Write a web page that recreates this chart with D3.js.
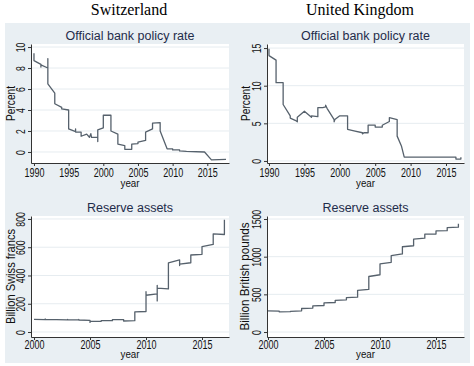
<!DOCTYPE html>
<html>
<head>
<meta charset="utf-8">
<script src="https://cdn.jsdelivr.net/npm/d3@7/dist/d3.min.js"></script>
<style>
  body { margin: 0; background: #fff; }
  svg { display: block; }
  text { font-family: "Liberation Sans", Arial, sans-serif; }
</style>
</head>
<body>
<svg id="chart" width="474" height="366"></svg>
<script>
// policy rates, [year, percent] - vertical jumps are repeated years
var chRate = [[1990, 9.4], [1990, 8.7], [1991, 8.35], [1991, 8.1], [1991, 8.3], [1992, 8.0], [1992, 8.9], [1992, 6.5],
  [1993, 5.6], [1993, 4.6], [1994, 4.25], [1994, 4.1], [1995, 4.0], [1995, 2.2], [1996, 1.95], [1996, 2.2], [1996, 1.9],
  [1996.8, 1.9], [1996.8, 1.5], [1997.6, 1.7], [1998, 1.4], [1998.2, 1.75], [1998.3, 1.4], [1999.2, 1.4], [1999.2, 1.0],
  [1999.2, 2.1], [2000, 2.3], [2000, 3.5], [2001.1, 3.5], [2001.1, 2.0], [2002.1, 1.7], [2002.1, 0.75], [2003.1, 0.6],
  [2003.1, 0.25], [2004.1, 0.25], [2004.1, 0.75], [2005, 0.8], [2005, 0.95], [2006.1, 1.1], [2006.1, 1.9], [2007.1, 2.2],
  [2007.1, 2.75], [2008.2, 2.8], [2008.2, 2.0], [2009.2, 0.3], [2010, 0.3], [2010, 0.2], [2011, 0.2], [2011, 0.1],
  [2012, 0.05], [2014.6, 0.0], [2015.6, -0.75], [2017.7, -0.7]];

var ukRate = [[1990, 14.9], [1990, 14.0], [1991, 13.4], [1991, 10.4], [1992, 10.4], [1992, 7.5], [1993, 6.0], [1993, 5.7],
  [1993.7, 5.4], [1994, 5.2], [1994, 5.8], [1995, 6.6], [1995.5, 6.2], [1996, 5.8], [1996, 6.0], [1996.9, 5.9],
  [1996.9, 7.1], [1997.6, 7.1], [1998, 7.2], [1998, 7.4], [1998.2, 7.0], [1999.2, 5.5], [1999.2, 5.2], [1999.3, 5.5],
  [2000, 6.0], [2001.1, 6.0], [2001.1, 4.2], [2002, 4.0], [2003.2, 3.75], [2003.2, 3.6], [2003.4, 3.75], [2004, 3.75],
  [2004, 4.75], [2005, 4.75], [2005, 4.5], [2006, 4.5], [2006, 4.75], [2007, 5.25], [2007, 5.75], [2008.1, 5.5],
  [2008.1, 3.3], [2008.7, 2.0], [2009.1, 0.5], [2016.4, 0.5], [2016.4, 0.25], [2017.1, 0.25], [2017.1, 0.5]];

// reserve assets, [year, billions]
var chRes = [[2000, 90], [2001, 88], [2001, 92], [2001, 88], [2002, 87], [2003, 86], [2003, 90], [2003, 86], [2004, 86],
  [2004, 89], [2004, 85], [2005, 82], [2005, 68], [2005, 75], [2006, 76], [2006, 80], [2007, 80], [2007, 88], [2008, 88],
  [2008, 78], [2009, 80], [2009, 143], [2010, 145], [2010, 285], [2010, 260], [2011, 270], [2011, 220], [2011, 330],
  [2011, 310], [2012, 305], [2012, 490], [2013, 510], [2013, 470], [2013, 480], [2014, 490], [2014, 545], [2015, 550],
  [2015, 605], [2016, 620], [2016, 695], [2017, 690], [2017, 795]];

var ukRes = [[2000, 282], [2001, 278], [2001, 268], [2002, 270], [2002, 275], [2003, 282], [2003, 312], [2004, 318],
  [2004, 346], [2005, 352], [2005, 386], [2006, 392], [2006, 421], [2007, 428], [2007, 456], [2008, 462], [2008, 553],
  [2009, 565], [2009, 737], [2010, 760], [2010, 904], [2011, 925], [2011, 1013], [2012, 1036], [2012, 1132],
  [2013, 1145], [2013, 1233], [2014, 1246], [2014, 1299], [2015, 1300], [2015, 1342], [2016, 1345], [2016, 1386],
  [2017, 1392], [2017, 1438]];

var rateYears = [1990, 1995, 2000, 2005, 2010, 2015];
var resYears = [2000, 2005, 2010, 2015];
var chRateTicks = [0, 2, 4, 6, 8, 10];
var ukRateTicks = [0, 5, 10, 15];
var chResTicks = [0, 200, 400, 600, 800];
var ukResTicks = [0, 500, 1000, 1500];

var svg = d3.select("#chart");

// light bluish gray graph region behind all four plots
svg.append("rect").attr("x", 5).attr("y", 23).attr("width", 465).attr("height", 340).attr("fill", "#e9eff3");

svg.append("text").attr("x", 129).attr("y", 15).attr("text-anchor", "middle")
  .style("font-family", "'Liberation Serif', 'Times New Roman', serif").style("font-size", "16px")
  .text("Switzerland");
svg.append("text").attr("x", 360).attr("y", 15).attr("text-anchor", "middle")
  .style("font-family", "'Liberation Serif', 'Times New Roman', serif").style("font-size", "16px")
  .text("United Kingdom");

// squeeze text to the narrow look of the stata font
function condense(sel, perChar) {
  sel.each(function() {
    var n = this.textContent.length;
    this.setAttribute("textLength", n * perChar);
    this.setAttribute("lengthAdjust", "spacingAndGlyphs");
  });
}

function drawPanel(p) {
  var x = d3.scaleLinear().domain(p.xDomain).range([p.left, p.right]);
  var y = d3.scaleLinear().domain(p.yDomain).range([p.bottom, p.top]);

  svg.append("rect").attr("x", p.left).attr("y", p.top)
    .attr("width", p.right - p.left).attr("height", p.bottom - p.top).attr("fill", "#fff");

  // gridlines
  svg.append("g").selectAll("line").data(p.yTicks).enter().append("line")
    .attr("x1", p.left).attr("x2", p.right)
    .attr("y1", function(d) { return y(d); }).attr("y2", function(d) { return y(d); })
    .attr("stroke", "#e6ecf0").attr("stroke-width", 1);

  var line = d3.line().x(function(d) { return x(d[0]); }).y(function(d) { return y(d[1]); });
  svg.append("path").datum(p.data).attr("d", line)
    .attr("fill", "none").attr("stroke", "#56616c").attr("stroke-width", 1.3).attr("stroke-linejoin", "round");

  var gx = svg.append("g").attr("transform", "translate(0," + p.bottom + ")")
    .call(d3.axisBottom(x).tickValues(p.xTicks).tickFormat(d3.format("d")).tickSize(3).tickSizeOuter(0));
  gx.selectAll("text").attr("y", p.xLabelY).attr("dy", 0).style("font-size", "12.5px").attr("fill", "#111");
  condense(gx.selectAll("text"), 5);

  var gy = svg.append("g").attr("transform", "translate(" + p.left + ",0)")
    .call(d3.axisLeft(y).tickValues(p.yTicks).tickFormat(d3.format("d")).tickSize(3).tickSizeOuter(0));
  gy.selectAll("text").attr("transform", "rotate(-90)").attr("x", 0).attr("y", -6).attr("dy", 0)
    .attr("text-anchor", "middle").style("font-size", "12.5px").attr("fill", "#111");
  condense(gy.selectAll("text"), 4.8);

  svg.selectAll(".domain").attr("stroke", "#333");
  svg.selectAll(".tick line").attr("stroke", "#333");

  svg.append("text").attr("x", (p.left + p.right) / 2).attr("y", p.titleY).attr("text-anchor", "middle")
    .style("font-size", "12.5px").attr("fill", "#1f2c4a").text(p.title);

  var xt = svg.append("text").attr("x", (p.left + p.right) / 2).attr("y", p.bottom + p.yearY)
    .attr("text-anchor", "middle").style("font-size", "11px").attr("fill", "#111").text("year");
  xt.attr("textLength", 19).attr("lengthAdjust", "spacingAndGlyphs");

  svg.append("text").attr("transform", "translate(" + p.yTitleX + "," + ((p.top + p.bottom) / 2) + ") rotate(-90)")
    .attr("text-anchor", "middle").style("font-size", "12px").attr("fill", "#111")
    .attr("textLength", p.yTitleLen).attr("lengthAdjust", "spacingAndGlyphs")
    .text(p.yTitle);
}

drawPanel({data: chRate, left: 31, right: 229, top: 44, bottom: 163,
  xDomain: [1989.57, 2018.13], yDomain: [-1.05, 10.29], xTicks: rateYears, yTicks: chRateTicks,
  title: "Official bank policy rate", titleY: 40, yTitle: "Percent", yTitleX: 15, yTitleLen: 35,
  xLabelY: 14, yearY: 23.5});

drawPanel({data: ukRate, left: 267, right: 464, top: 44, bottom: 163,
  xDomain: [1989.72, 2017.54], yDomain: [-0.27, 15.54], xTicks: rateYears, yTicks: ukRateTicks,
  title: "Official bank policy rate", titleY: 40, yTitle: "Percent", yTitleX: 250, yTitleLen: 35,
  xLabelY: 14, yearY: 23.5});

drawPanel({data: chRes, left: 31, right: 229, top: 216, bottom: 337,
  xDomain: [1999.73, 2017.41], yDomain: [-35.4, 821], xTicks: resYears, yTicks: chResTicks,
  title: "Reserve assets", titleY: 211.5, yTitle: "Billion Swiss francs", yTitleX: 15, yTitleLen: 95,
  xLabelY: 11.5, yearY: 20.5});

drawPanel({data: ukRes, left: 267, right: 464, top: 216, bottom: 337,
  xDomain: [1999.91, 2017.5], yDomain: [-66, 1540], xTicks: resYears, yTicks: ukResTicks,
  title: "Reserve assets", titleY: 211.5, yTitle: "Billion British pounds", yTitleX: 249, yTitleLen: 108,
  xLabelY: 11.5, yearY: 20.5});
</script>
</body>
</html>
